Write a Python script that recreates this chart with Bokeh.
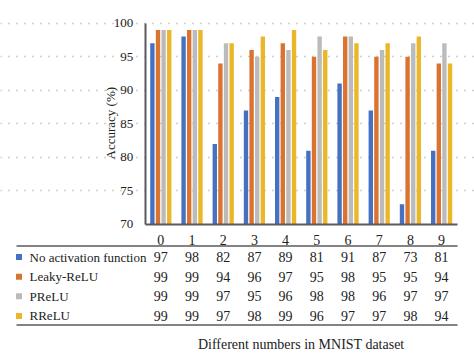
from bokeh.plotting import figure
from bokeh.models import (Range1d, LinearAxis, FixedTicker, Grid, ColumnDataSource)
from bokeh.core.properties import value
from bokeh.embed import file_html
from bokeh.resources import INLINE

# ---- data ----
categories = ["0", "1", "2", "3", "4", "5", "6", "7", "8", "9"]
series_names = ["No activation function", "Leaky-ReLU", "PReLU", "RReLU"]
no_activation = [97, 98, 82, 87, 89, 81, 91, 87, 73, 81]
leaky_relu = [99, 99, 94, 96, 97, 95, 98, 95, 95, 94]
prelu = [99, 99, 97, 95, 96, 98, 98, 96, 97, 97]
rrelu = [99, 99, 97, 98, 99, 96, 97, 97, 98, 94]
y_ticks = [70, 75, 80, 85, 90, 95, 100]
y_label = "Accuracy (%)"
x_label = "Different numbers in MNIST dataset"

series_values = [no_activation, leaky_relu, prelu, rrelu]
colors = ["#4670C0", "#DA7330", "#BBBBBB", "#EBB628"]
FONT = "Liberation Serif"
TXT = "#222222"

p = figure(width=474, height=359,
           x_range=Range1d(-5.138, 10.054), y_range=Range1d(49.88, 103.38),
           min_border=0, output_backend="svg", toolbar_location=None,
           x_axis_type=None, y_axis_type=None)
p.outline_line_color = None
p.background_fill_color = "white"
p.border_fill_color = "white"
p.extra_y_ranges = {"table": Range1d(6.224, -12.092)}

# grid
grid = Grid(dimension=1, ticker=FixedTicker(ticks=y_ticks[1:]), bounds=(-0.5, 9.5),
            grid_line_color="#a0a0a0", grid_line_dash="1 7", grid_line_width=1.5)
p.add_layout(grid, "center")

# bars
pitch = 0.18
idx = list(range(len(categories)))
for s, (name, vals, col) in enumerate(zip(series_names, series_values, colors)):
    off = (s - 1.5) * pitch
    src = ColumnDataSource(dict(x=[i + off for i in idx], top=vals, bottom=[70] * len(vals)))
    p.vbar(x="x", top="top", bottom="bottom", width=0.14, source=src,
           fill_color=col, line_color=None)

# axes
yaxis = LinearAxis(fixed_location=-0.5, bounds=(70, 100), ticker=FixedTicker(ticks=y_ticks),
                   major_tick_line_color=None, minor_tick_line_color=None,
                   axis_line_color="#5a5a5a", axis_line_width=2,
                   major_label_text_font=FONT, major_label_text_font_size="13px",
                   major_label_text_color=TXT, major_label_standoff=6)
p.add_layout(yaxis, "left")

xaxis = LinearAxis(fixed_location=70, bounds=(-0.5, 9.5), ticker=FixedTicker(ticks=idx),
                   major_label_overrides={i: c for i, c in enumerate(categories)},
                   major_tick_line_color=None, minor_tick_line_color=None,
                   axis_line_color="#5a5a5a", axis_line_width=2,
                   major_label_text_font=FONT, major_label_text_font_size="14px",
                   major_label_text_color=TXT, major_label_standoff=5)
p.add_layout(xaxis, "below")

# y axis title
p.text(x=[-1.62], y=[85.1], text=[y_label], angle=1.5708, text_align="center",
       text_baseline="middle", text_font=value(FONT), text_font_size="13px", text_color=TXT)

# table lines
p.segment(x0=[-4.625, -4.625], x1=[9.51, 9.51], y0=[0.43, 4.46], y1=[0.43, 4.46],
          y_range_name="table", line_color="#5a5a5a", line_width=1.5)

# table rows
for r, (name, vals, col) in enumerate(zip(series_names, series_values, colors), start=1):
    p.scatter(x=[-4.545], y=[r], marker="square", size=6, fill_color=col, line_color=None,
              y_range_name="table")
    p.text(x=[-4.208], y=[r], text=[name], text_align="left", text_baseline="middle",
           text_font=value(FONT), text_font_size="13px", text_color=TXT, y_range_name="table")
    p.text(x=idx, y=[r] * len(idx), text=[str(v) for v in vals], text_align="center",
           text_baseline="middle", text_font=value(FONT), text_font_size="14px",
           text_color=TXT, y_range_name="table")

# caption
p.text(x=[4.5], y=[5.45], text=[x_label], text_align="center", text_baseline="middle",
       text_font=value(FONT), text_font_size="14px", text_color=TXT, y_range_name="table")

open("out.html", "w").write(file_html(p, INLINE))
